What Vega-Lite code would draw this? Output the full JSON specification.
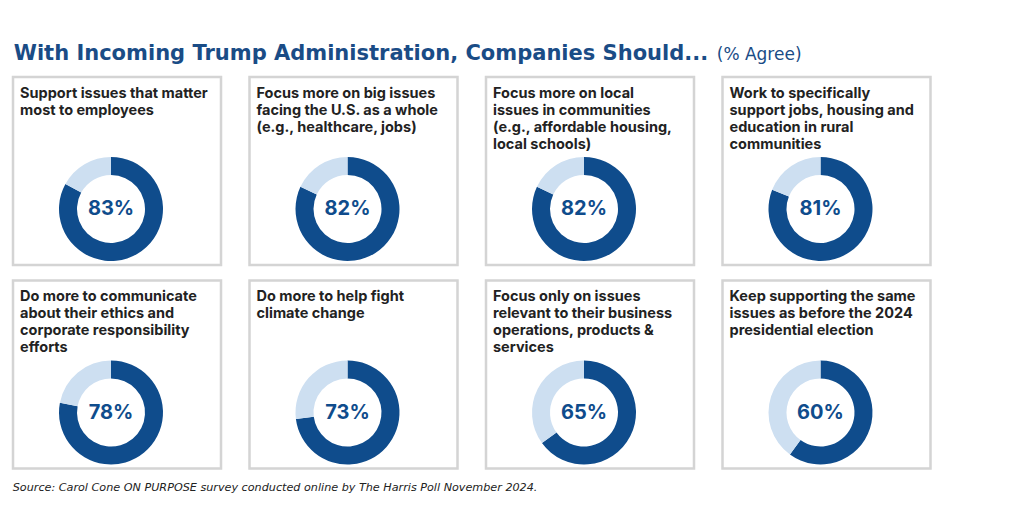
{
  "$schema": "https://vega.github.io/schema/vega-lite/v6.json",
  "background": "white",
  "padding": {"left": 11, "top": 42, "right": 5, "bottom": 5},
  "data": {"values": [
    {"id": 1, "cat": "Agree", "v": 0.83}, {"id": 1, "cat": "Other", "v": 0.17},
    {"id": 2, "cat": "Agree", "v": 0.82}, {"id": 2, "cat": "Other", "v": 0.18},
    {"id": 3, "cat": "Agree", "v": 0.82}, {"id": 3, "cat": "Other", "v": 0.18},
    {"id": 4, "cat": "Agree", "v": 0.81}, {"id": 4, "cat": "Other", "v": 0.19},
    {"id": 5, "cat": "Agree", "v": 0.78}, {"id": 5, "cat": "Other", "v": 0.22},
    {"id": 6, "cat": "Agree", "v": 0.73}, {"id": 6, "cat": "Other", "v": 0.27},
    {"id": 7, "cat": "Agree", "v": 0.65}, {"id": 7, "cat": "Other", "v": 0.35},
    {"id": 8, "cat": "Agree", "v": 0.60}, {"id": 8, "cat": "Other", "v": 0.40}
  ]},
  "title": {"text": "Source: Carol Cone ON PURPOSE survey conducted online by The Harris Poll November 2024.", "orient": "bottom", "anchor": "start", "frame": "bounds", "offset": 12, "dx": 1, "font": "DejaVu Sans", "fontSize": 11.2, "fontStyle": "italic", "fontWeight": "normal", "color": "#222222", "baseline": "top", "lineHeight": 14},
  "vconcat": [
    {
      "title": {"text": "With Incoming Trump Administration, Companies Should...", "orient": "top", "anchor": "start", "frame": "bounds", "offset": -35, "dx": 2, "font": "DejaVu Sans", "fontSize": 21, "fontWeight": "bold", "color": "#1a4c86", "baseline": "alphabetic", "lineHeight": 24},
      "vconcat": [
        {
          "title": {"text": "(% Agree)", "orient": "top", "anchor": "start", "frame": "bounds", "offset": -1, "dx": 705, "font": "DejaVu Sans", "fontSize": 17, "fontWeight": "normal", "color": "#1a4c86", "baseline": "alphabetic", "lineHeight": 20},
          "columns": 4,
          "spacing": {"row": 11.5, "column": 24.5},
          "concat": [
            {"width": 208, "height": 188, "view": {"stroke": "#d4d4d4", "strokeWidth": 2.5},
             "title": {"text": ["Support issues that matter", "most to employees"], "offset": -41},
             "transform": [{"filter": "datum.id == 1"}],
             "layer": [
               {"mark": {"type": "arc", "outerRadius": 52, "innerRadius": 34, "xOffset": -6, "yOffset": 38}, "encoding": {"theta": {"field": "v", "type": "quantitative", "stack": true}, "color": {"field": "cat", "type": "nominal", "scale": {"domain": ["Agree", "Other"], "range": ["#0f4c8c", "#cddff1"]}, "legend": null}}},
               {"transform": [{"filter": "datum.cat == 'Agree'"}], "mark": {"type": "text", "xOffset": -6, "yOffset": 38, "font": "Inter", "fontWeight": "bold", "fontSize": 20, "color": "#0f4c8c", "align": "center", "baseline": "middle"}, "encoding": {"text": {"field": "v", "type": "quantitative", "format": ".0%"}}}
             ]},
            {"width": 208, "height": 188, "view": {"stroke": "#d4d4d4", "strokeWidth": 2.5},
             "title": {"text": ["Focus more on big issues", "facing the U.S. as a whole", "(e.g., healthcare, jobs)"], "offset": -58},
             "transform": [{"filter": "datum.id == 2"}],
             "layer": [
               {"mark": {"type": "arc", "outerRadius": 52, "innerRadius": 34, "xOffset": -6, "yOffset": 38}, "encoding": {"theta": {"field": "v", "type": "quantitative", "stack": true}, "color": {"field": "cat", "type": "nominal", "scale": {"domain": ["Agree", "Other"], "range": ["#0f4c8c", "#cddff1"]}, "legend": null}}},
               {"transform": [{"filter": "datum.cat == 'Agree'"}], "mark": {"type": "text", "xOffset": -6, "yOffset": 38, "font": "Inter", "fontWeight": "bold", "fontSize": 20, "color": "#0f4c8c", "align": "center", "baseline": "middle"}, "encoding": {"text": {"field": "v", "type": "quantitative", "format": ".0%"}}}
             ]},
            {"width": 208, "height": 188, "view": {"stroke": "#d4d4d4", "strokeWidth": 2.5},
             "title": {"text": ["Focus more on local", "issues in communities", "(e.g., affordable housing,", "local schools)"], "offset": -75},
             "transform": [{"filter": "datum.id == 3"}],
             "layer": [
               {"mark": {"type": "arc", "outerRadius": 52, "innerRadius": 34, "xOffset": -6, "yOffset": 38}, "encoding": {"theta": {"field": "v", "type": "quantitative", "stack": true}, "color": {"field": "cat", "type": "nominal", "scale": {"domain": ["Agree", "Other"], "range": ["#0f4c8c", "#cddff1"]}, "legend": null}}},
               {"transform": [{"filter": "datum.cat == 'Agree'"}], "mark": {"type": "text", "xOffset": -6, "yOffset": 38, "font": "Inter", "fontWeight": "bold", "fontSize": 20, "color": "#0f4c8c", "align": "center", "baseline": "middle"}, "encoding": {"text": {"field": "v", "type": "quantitative", "format": ".0%"}}}
             ]},
            {"width": 208, "height": 188, "view": {"stroke": "#d4d4d4", "strokeWidth": 2.5},
             "title": {"text": ["Work to specifically", "support jobs, housing and", "education in rural", "communities"], "offset": -75},
             "transform": [{"filter": "datum.id == 4"}],
             "layer": [
               {"mark": {"type": "arc", "outerRadius": 52, "innerRadius": 34, "xOffset": -6, "yOffset": 38}, "encoding": {"theta": {"field": "v", "type": "quantitative", "stack": true}, "color": {"field": "cat", "type": "nominal", "scale": {"domain": ["Agree", "Other"], "range": ["#0f4c8c", "#cddff1"]}, "legend": null}}},
               {"transform": [{"filter": "datum.cat == 'Agree'"}], "mark": {"type": "text", "xOffset": -6, "yOffset": 38, "font": "Inter", "fontWeight": "bold", "fontSize": 20, "color": "#0f4c8c", "align": "center", "baseline": "middle"}, "encoding": {"text": {"field": "v", "type": "quantitative", "format": ".0%"}}}
             ]},
            {"width": 208, "height": 188, "view": {"stroke": "#d4d4d4", "strokeWidth": 2.5},
             "title": {"text": ["Do more to communicate", "about their ethics and", "corporate responsibility", "efforts"], "offset": -75},
             "transform": [{"filter": "datum.id == 5"}],
             "layer": [
               {"mark": {"type": "arc", "outerRadius": 52, "innerRadius": 34, "xOffset": -6, "yOffset": 38}, "encoding": {"theta": {"field": "v", "type": "quantitative", "stack": true}, "color": {"field": "cat", "type": "nominal", "scale": {"domain": ["Agree", "Other"], "range": ["#0f4c8c", "#cddff1"]}, "legend": null}}},
               {"transform": [{"filter": "datum.cat == 'Agree'"}], "mark": {"type": "text", "xOffset": -6, "yOffset": 38, "font": "Inter", "fontWeight": "bold", "fontSize": 20, "color": "#0f4c8c", "align": "center", "baseline": "middle"}, "encoding": {"text": {"field": "v", "type": "quantitative", "format": ".0%"}}}
             ]},
            {"width": 208, "height": 188, "view": {"stroke": "#d4d4d4", "strokeWidth": 2.5},
             "title": {"text": ["Do more to help fight", "climate change"], "offset": -41},
             "transform": [{"filter": "datum.id == 6"}],
             "layer": [
               {"mark": {"type": "arc", "outerRadius": 52, "innerRadius": 34, "xOffset": -6, "yOffset": 38}, "encoding": {"theta": {"field": "v", "type": "quantitative", "stack": true}, "color": {"field": "cat", "type": "nominal", "scale": {"domain": ["Agree", "Other"], "range": ["#0f4c8c", "#cddff1"]}, "legend": null}}},
               {"transform": [{"filter": "datum.cat == 'Agree'"}], "mark": {"type": "text", "xOffset": -6, "yOffset": 38, "font": "Inter", "fontWeight": "bold", "fontSize": 20, "color": "#0f4c8c", "align": "center", "baseline": "middle"}, "encoding": {"text": {"field": "v", "type": "quantitative", "format": ".0%"}}}
             ]},
            {"width": 208, "height": 188, "view": {"stroke": "#d4d4d4", "strokeWidth": 2.5},
             "title": {"text": ["Focus only on issues", "relevant to their business", "operations, products &", "services"], "offset": -75},
             "transform": [{"filter": "datum.id == 7"}],
             "layer": [
               {"mark": {"type": "arc", "outerRadius": 52, "innerRadius": 34, "xOffset": -6, "yOffset": 38}, "encoding": {"theta": {"field": "v", "type": "quantitative", "stack": true}, "color": {"field": "cat", "type": "nominal", "scale": {"domain": ["Agree", "Other"], "range": ["#0f4c8c", "#cddff1"]}, "legend": null}}},
               {"transform": [{"filter": "datum.cat == 'Agree'"}], "mark": {"type": "text", "xOffset": -6, "yOffset": 38, "font": "Inter", "fontWeight": "bold", "fontSize": 20, "color": "#0f4c8c", "align": "center", "baseline": "middle"}, "encoding": {"text": {"field": "v", "type": "quantitative", "format": ".0%"}}}
             ]},
            {"width": 208, "height": 188, "view": {"stroke": "#d4d4d4", "strokeWidth": 2.5},
             "title": {"text": ["Keep supporting the same", "issues as before the 2024", "presidential election"], "offset": -58},
             "transform": [{"filter": "datum.id == 8"}],
             "layer": [
               {"mark": {"type": "arc", "outerRadius": 52, "innerRadius": 34, "xOffset": -6, "yOffset": 38}, "encoding": {"theta": {"field": "v", "type": "quantitative", "stack": true}, "color": {"field": "cat", "type": "nominal", "scale": {"domain": ["Agree", "Other"], "range": ["#0f4c8c", "#cddff1"]}, "legend": null}}},
               {"transform": [{"filter": "datum.cat == 'Agree'"}], "mark": {"type": "text", "xOffset": -6, "yOffset": 38, "font": "Inter", "fontWeight": "bold", "fontSize": 20, "color": "#0f4c8c", "align": "center", "baseline": "middle"}, "encoding": {"text": {"field": "v", "type": "quantitative", "format": ".0%"}}}
             ]}
          ]
        }
      ]
    }
  ],
  "config": {
    "view": {"stroke": "#d4d4d4", "strokeWidth": 2.5},
    "title": {"anchor": "start", "frame": "group", "orient": "top", "font": "Inter", "fontSize": 14.5, "fontWeight": "bold", "color": "#222222", "baseline": "alphabetic", "lineHeight": 17, "dx": 7}
  }
}
